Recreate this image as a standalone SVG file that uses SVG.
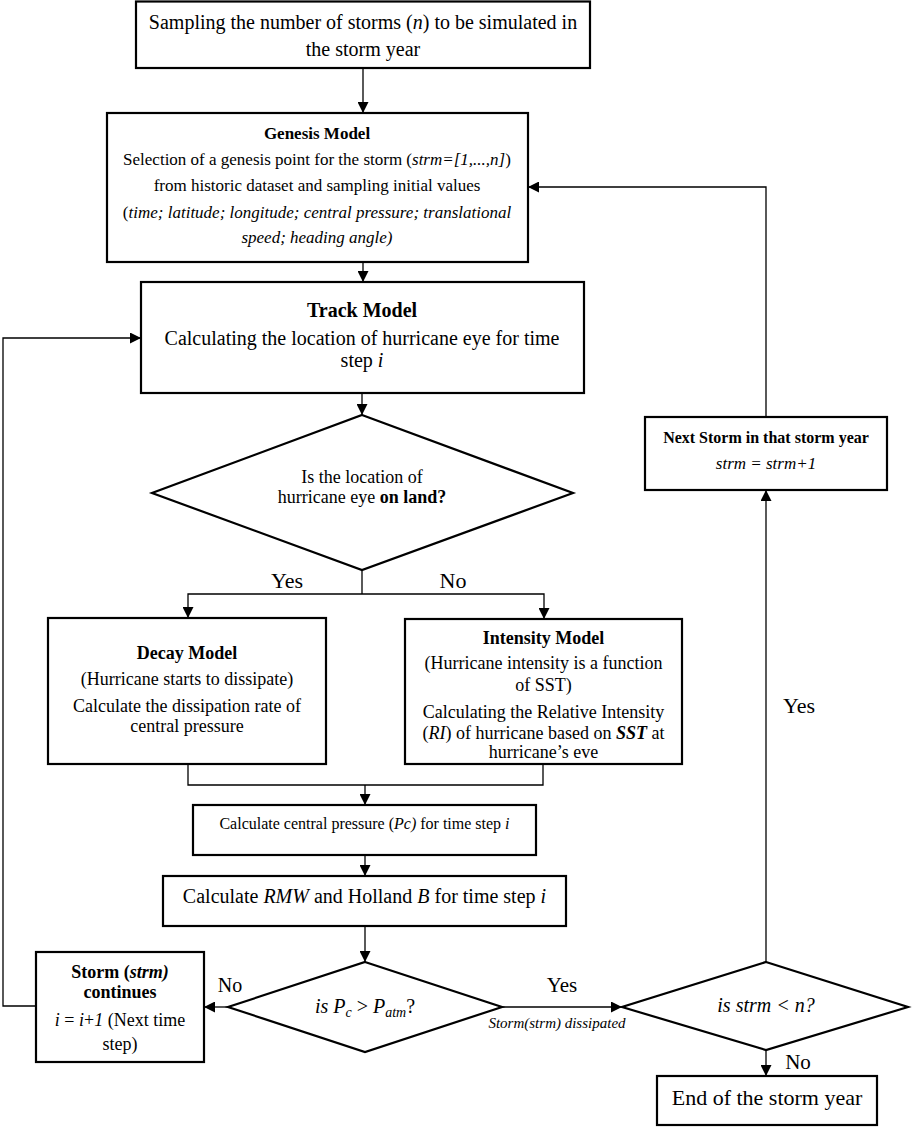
<svg xmlns="http://www.w3.org/2000/svg" width="913" height="1127" viewBox="0 0 913 1127">
<style>
text{font-family:"Liberation Serif","Times New Roman",serif;fill:#000;text-anchor:middle}
.box{fill:#fff;stroke:#000;stroke-width:2.2}
.dia{fill:#fff;stroke:#000;stroke-width:2.2}
.con{fill:none;stroke:#000;stroke-width:1.3}
.b{font-weight:bold}
.i{font-style:italic}
.s20{font-size:20px}.s18{font-size:18px}.s17{font-size:17px}.s16{font-size:16px}.s22{font-size:22px}.s21{font-size:21px}.s15{font-size:15px}
</style>
<defs>
<marker id="arr" markerUnits="userSpaceOnUse" markerWidth="11" markerHeight="11" refX="11" refY="5.5" orient="auto">
<path d="M0,0 L11,5.5 L0,11 z" fill="#000"/>
</marker>
</defs>
<rect width="913" height="1127" fill="#fff"/>
<g id="connectors">
<line class="con" x1="363" y1="68" x2="363" y2="113" marker-end="url(#arr)"/>
<line class="con" x1="363" y1="262" x2="363" y2="282" marker-end="url(#arr)"/>
<line class="con" x1="362" y1="393" x2="362" y2="415" marker-end="url(#arr)"/>
<polyline class="con" points="362,570 362,594"/>
<polyline class="con" points="362,594 188,594 188,618" marker-end="url(#arr)"/>
<polyline class="con" points="362,594 544,594 544,619" marker-end="url(#arr)"/>
<polyline class="con" points="188,764 188,785 543,785 543,764"/>
<line class="con" x1="365" y1="785" x2="365" y2="805" marker-end="url(#arr)"/>
<line class="con" x1="365" y1="855" x2="365" y2="876" marker-end="url(#arr)"/>
<line class="con" x1="365" y1="926" x2="365" y2="962" marker-end="url(#arr)"/>
<line class="con" x1="228" y1="1007" x2="204" y2="1007" marker-end="url(#arr)"/>
<polyline class="con" points="36,1006 3,1006 3,338 141,338" marker-end="url(#arr)"/>
<line class="con" x1="502" y1="1007" x2="622" y2="1007" marker-end="url(#arr)"/>
<line class="con" x1="766" y1="1050" x2="766" y2="1076" marker-end="url(#arr)"/>
<line class="con" x1="766" y1="962" x2="766" y2="490" marker-end="url(#arr)"/>
<polyline class="con" points="766,417 766,187 528,187" marker-end="url(#arr)"/>
<text class="s22" x="287" y="588">Yes</text>
<text class="s22" x="453" y="588">No</text>
<text class="s20" x="230" y="992">No</text>
<text class="s21" x="562" y="992">Yes</text>
<text class="s15 i" x="557" y="1028">Storm(strm) dissipated</text>
<text class="s21" x="798" y="1069">No</text>
<text class="s22" x="799" y="713">Yes</text>
</g>
<g id="sampling">
<rect class="box" x="136" y="1.5" width="454" height="66.5"/>
<text class="s20" x="363" y="29">Sampling the number of storms (<tspan class="i">n</tspan>) to be simulated in</text>
<text class="s20" x="363" y="56">the storm year</text>
</g>
<g id="genesis">
<rect class="box" x="107" y="113" width="421" height="149"/>
<text class="s17 b" x="317" y="139">Genesis Model</text>
<text class="s17" x="317" y="165">Selection of a genesis point for the storm (<tspan class="i">strm=[1,...,n]</tspan>)</text>
<text class="s17" x="317" y="191">from historic dataset and sampling initial values</text>
<text class="s17" x="317" y="218">(<tspan class="i">time; latitude; longitude; central pressure; translational</tspan></text>
<text class="s17 i" x="317" y="243">speed; heading angle)</text>
</g>
<g id="track">
<rect class="box" x="141" y="282" width="443" height="111"/>
<text class="s20 b" x="362" y="317">Track Model</text>
<text class="s20" x="362" y="345">Calculating the location of hurricane eye for time</text>
<text class="s20" x="362" y="367">step <tspan class="i">i</tspan></text>
</g>
<g id="onland">
<polygon class="dia" points="362,415 573,493 362,570 152,493"/>
<text class="s18" x="362" y="483">Is the location of</text>
<text class="s18" x="362" y="503">hurricane eye <tspan class="b">on land?</tspan></text>
</g>
<g id="decay">
<rect class="box" x="48" y="618" width="278" height="146"/>
<text class="s18 b" x="187" y="659">Decay Model</text>
<text class="s18" x="187" y="685">(Hurricane starts to dissipate)</text>
<text class="s18" x="187" y="712">Calculate the dissipation rate of</text>
<text class="s18" x="187" y="732">central pressure</text>
</g>
<g id="intensity">
<rect class="box" x="405" y="619" width="277" height="145"/>
<text class="s18 b" x="543.5" y="644">Intensity Model</text>
<text class="s18" x="543.5" y="669">(Hurricane intensity is a function</text>
<text class="s18" x="543.5" y="691">of SST)</text>
<text class="s18" x="543.5" y="718">Calculating the Relative Intensity</text>
<text class="s18" x="543.5" y="739">(<tspan class="i">RI</tspan>) of hurricane based on <tspan class="b i">SST</tspan> at</text>
<text class="s18" x="543.5" y="758">hurricane’s eve</text>
</g>
<g id="pc">
<rect class="box" x="193" y="805" width="343" height="50"/>
<text class="s16" x="364.5" y="829">Calculate central pressure (<tspan class="i">Pc)</tspan> for time step <tspan class="i">i</tspan></text>
</g>
<g id="rmw">
<rect class="box" x="163" y="876" width="403" height="50"/>
<text class="s20" x="364.5" y="903">Calculate <tspan class="i">RMW</tspan> and Holland <tspan class="i">B</tspan> for time step <tspan class="i">i</tspan></text>
</g>
<g id="pcpatm">
<polygon class="dia" points="365,962 502,1007 365,1052 228,1007"/>
<text class="s20 i" x="365" y="1013">is P<tspan font-size="14" dy="4">c</tspan><tspan font-style="normal" dy="-4"> &gt; </tspan> P<tspan font-size="14" dy="4">atm</tspan><tspan font-style="normal" dy="-4">?</tspan></text>
</g>
<g id="continues">
<rect class="box" x="36" y="952" width="168" height="110"/>
<text class="s18 b" x="120" y="978">Storm (<tspan class="i">strm)</tspan></text>
<text class="s18 b" x="120" y="998">continues</text>
<text class="s18" x="120" y="1026"><tspan class="i">i</tspan> = <tspan class="i">i</tspan>+<tspan class="i">1</tspan> (Next time</text>
<text class="s18" x="120" y="1050">step)</text>
</g>
<g id="strmn">
<polygon class="dia" points="766,962 908,1007 766,1050 622,1007"/>
<text class="s20 i" x="766" y="1012">is strm &lt; n?</text>
</g>
<g id="end">
<rect class="box" x="657" y="1076" width="220" height="49"/>
<text class="s22" x="767" y="1105">End of the storm year</text>
</g>
<g id="next">
<rect class="box" x="645" y="417" width="242" height="73"/>
<text class="s16 b" x="766" y="443">Next Storm in that storm year</text>
<text class="s17 i" x="766" y="469">strm = strm+1</text>
</g>
</svg>
